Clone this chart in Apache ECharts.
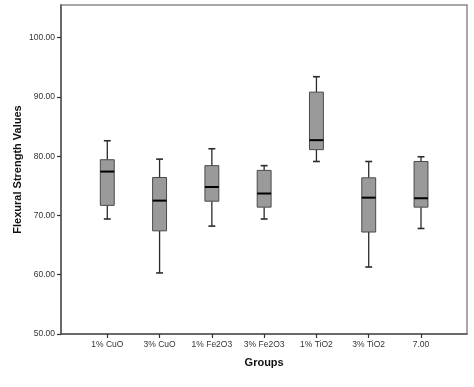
<!DOCTYPE html>
<html>
<head>
<meta charset="utf-8">
<script src="https://cdn.jsdelivr.net/npm/echarts@6/dist/echarts.min.js"></script>
<style>html,body{margin:0;padding:0;background:#fff;}#c{width:474px;height:387px;}</style>
</head>
<body>
<div id="c"></div>
<script>
// ---- data ----
const categories = ['1% CuO', '3% CuO', '1% Fe2O3', '3% Fe2O3', '1% TiO2', '3% TiO2', '7.00'];
const minValues    = [69.4, 60.3, 68.2, 69.4, 79.1, 61.3, 67.8];
const q1Values     = [71.7, 67.4, 72.4, 71.4, 81.1, 67.2, 71.4];
const medianValues = [77.4, 72.5, 74.8, 73.7, 82.7, 73.0, 72.9];
const q3Values     = [79.4, 76.4, 78.4, 77.6, 90.8, 76.35, 79.1];
const maxValues    = [82.6, 79.5, 81.25, 78.4, 93.4, 79.1, 79.9];
const yTickValues  = [50, 60, 70, 80, 90, 100];
const yTitle = 'Flexural Strength Values';
const xTitle = 'Groups';

const boxData = categories.map((c, i) => [i, minValues[i], q1Values[i], medianValues[i], q3Values[i], maxValues[i]]);

const Y_MIN = 50, Y_MAX = 105.5;
const FONT = '"Liberation Sans", Arial, sans-serif';

const chart = echarts.init(document.getElementById('c'), null, {renderer: 'canvas'});

function renderBox(params, api) {
  const x = api.value(0);
  const lo = api.coord([x, api.value(1)]);
  const q1 = api.coord([x, api.value(2)]);
  const md = api.coord([x, api.value(3)]);
  const q3 = api.coord([x, api.value(4)]);
  const hi = api.coord([x, api.value(5)]);
  const band = api.size([1, 0])[0];
  const hw = band * 0.133;
  const cw = band * 0.066;
  const cx = lo[0];
  const lineStyle = {stroke: '#2b2b2b', lineWidth: 1.3};
  return {
    type: 'group',
    children: [
      {type: 'line', shape: {x1: cx, y1: q3[1], x2: cx, y2: hi[1]}, style: lineStyle},
      {type: 'line', shape: {x1: cx, y1: q1[1], x2: cx, y2: lo[1]}, style: lineStyle},
      {type: 'line', shape: {x1: cx - cw, y1: hi[1], x2: cx + cw, y2: hi[1]}, style: {stroke: '#2b2b2b', lineWidth: 1.6}},
      {type: 'line', shape: {x1: cx - cw, y1: lo[1], x2: cx + cw, y2: lo[1]}, style: {stroke: '#2b2b2b', lineWidth: 1.6}},
      {type: 'rect', shape: {x: cx - hw, y: q3[1], width: hw * 2, height: q1[1] - q3[1]},
        style: {fill: '#9a9a9a', stroke: '#4a4a4a', lineWidth: 1}},
      {type: 'line', shape: {x1: cx - hw, y1: md[1], x2: cx + hw, y2: md[1]}, style: {stroke: '#000', lineWidth: 2}}
    ]
  };
}

const option = {
  animation: false,
  backgroundColor: '#fff',
  grid: [
    {left: 61, top: 5, right: 7, bottom: 53, show: true, borderColor: '#8a8a8a', borderWidth: 1.5, backgroundColor: 'transparent'},
    {left: 81.15, top: 5, right: 26.85, bottom: 53}
  ],
  xAxis: [
    {gridIndex: 0, type: 'value', min: 0, max: 1,
      axisLine: {show: true, onZero: false, lineStyle: {color: '#555', width: 1.5}},
      axisTick: {show: false}, axisLabel: {show: false}, splitLine: {show: false}},
    {gridIndex: 1, type: 'category', data: categories,
      axisLine: {show: false},
      axisTick: {show: true, alignWithLabel: true, length: 4, lineStyle: {color: '#333', width: 1.2}},
      axisLabel: {color: '#333', fontSize: 8.5, fontFamily: FONT, margin: 6, interval: 0},
      splitLine: {show: false},
      name: xTitle, nameLocation: 'middle', nameGap: 23,
      nameTextStyle: {fontSize: 11, fontWeight: 'bold', color: '#111', fontFamily: FONT}}
  ],
  yAxis: [
    {gridIndex: 0, type: 'value', min: Y_MIN, max: Y_MAX,
      axisLine: {show: true, lineStyle: {color: '#555', width: 1.5}},
      axisTick: {show: true, length: 4, customValues: yTickValues, lineStyle: {color: '#333', width: 1.2}},
      axisLabel: {show: true, customValues: yTickValues, color: '#333', fontSize: 8.5, fontFamily: FONT, margin: 6,
        formatter: v => v.toFixed(2)},
      splitLine: {show: false},
      name: yTitle, nameLocation: 'middle', nameGap: 38, nameRotate: 90, nameMoveOverlap: false,
      nameTextStyle: {fontSize: 11, fontWeight: 'bold', color: '#111', fontFamily: FONT}},
    {gridIndex: 1, type: 'value', min: Y_MIN, max: Y_MAX, show: false, splitLine: {show: false}}
  ],
  series: [
    {type: 'custom', xAxisIndex: 1, yAxisIndex: 1, data: boxData,
      encode: {x: 0, y: [1, 2, 3, 4, 5]}, renderItem: renderBox, clip: false}
  ]
};
chart.setOption(option);
</script>
</body>
</html>
